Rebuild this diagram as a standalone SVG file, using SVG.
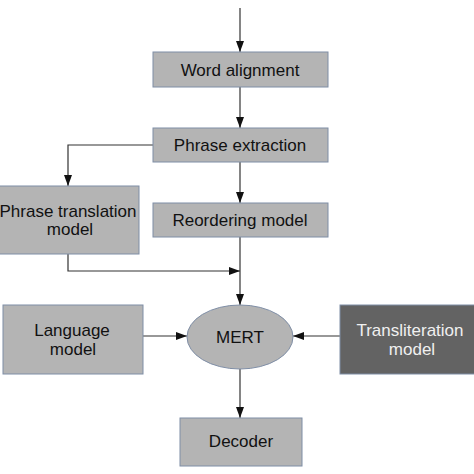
<svg xmlns="http://www.w3.org/2000/svg" width="474" height="474" viewBox="0 0 474 474">
<defs>
<marker id="ah" viewBox="0 0 11 8" refX="11" refY="4" markerWidth="11" markerHeight="8" markerUnits="userSpaceOnUse" orient="auto">
<path d="M0,0 L11,4 L0,8 z" fill="#111"/>
</marker>
</defs>
<style>
.box{fill:#b4b4b4;stroke:#7f8ea6;stroke-width:1}
.dark{fill:#636363;stroke:#7f8ea6;stroke-width:1}
.t{font-family:"Liberation Sans",Arial,sans-serif;font-size:17px;fill:#111;text-anchor:middle}
.tw{font-family:"Liberation Sans",Arial,sans-serif;font-size:17px;fill:#f0f0f0;text-anchor:middle}
.c{fill:none;stroke:#333;stroke-width:1.2;marker-end:url(#ah)}
</style>
<rect width="474" height="474" fill="#fff"/>
<g id="connectors">
<line class="c" x1="240" y1="8" x2="240" y2="52"/>
<line class="c" x1="240" y1="87" x2="240" y2="128"/>
<polyline class="c" points="153,145 68,145 68,186"/>
<line class="c" x1="240" y1="162" x2="240" y2="203"/>
<polyline class="c" points="68,254 68,271 240,271"/>
<line class="c" x1="240" y1="237" x2="240" y2="305"/>
<line class="c" x1="143" y1="336" x2="187" y2="336"/>
<line class="c" x1="340" y1="336" x2="293" y2="336"/>
<line class="c" x1="240" y1="369" x2="240" y2="418"/>
</g>
<g id="word-alignment">
<rect class="box" x="153" y="52" width="175" height="35"/>
<text class="t" x="240" y="76">Word alignment</text>
</g>
<g id="phrase-extraction">
<rect class="box" x="153" y="128" width="175" height="34"/>
<text class="t" x="240" y="151">Phrase extraction</text>
</g>
<g id="phrase-translation-model">
<rect class="box" x="-1" y="186" width="140" height="68"/>
<text class="t" x="68" y="217">Phrase translation</text>
<text class="t" x="70" y="235">model</text>
</g>
<g id="reordering-model">
<rect class="box" x="153" y="203" width="175" height="34"/>
<text class="t" x="240" y="226">Reordering model</text>
</g>
<g id="language-model">
<rect class="box" x="3" y="305" width="140" height="69"/>
<text class="t" x="72" y="336">Language</text>
<text class="t" x="73" y="355">model</text>
</g>
<g id="mert">
<ellipse class="box" cx="240" cy="337" rx="53" ry="32"/>
<text class="t" x="240" y="343">MERT</text>
</g>
<g id="transliteration-model">
<rect class="dark" x="340" y="305" width="135" height="69"/>
<text class="tw" x="410" y="336">Transliteration</text>
<text class="tw" x="412" y="355">model</text>
</g>
<g id="decoder">
<rect class="box" x="180" y="418" width="122" height="48"/>
<text class="t" x="241" y="447">Decoder</text>
</g>
</svg>
